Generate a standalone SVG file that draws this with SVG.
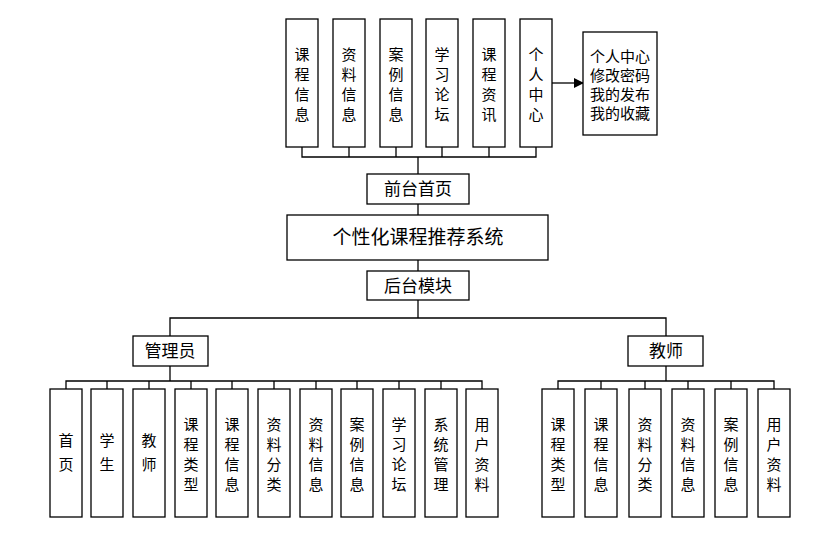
<svg xmlns="http://www.w3.org/2000/svg" width="833" height="541" viewBox="0 0 833 541">
<style>
rect{fill:#fff;stroke:#000;stroke-width:1.3}
text{font-family:"Noto Sans CJK SC",sans-serif;font-size:15px;fill:#000;text-anchor:middle}
.c line,.c polyline{stroke:#000;stroke-width:1.3;fill:none}
.t{font-size:17px}
</style>
<defs><marker id="a" markerWidth="10" markerHeight="10" refX="9" refY="5" orient="auto" markerUnits="userSpaceOnUse"><path d="M0,0L10,5L0,10z"/></marker></defs>
<g class="c">
<polyline points="302,147 302,157 536,157 536,147"/>
<line x1="349" y1="147" x2="349" y2="157"/><line x1="396" y1="147" x2="396" y2="157"/><line x1="442" y1="147" x2="442" y2="157"/><line x1="489" y1="147" x2="489" y2="157"/>
<line x1="418" y1="157" x2="418" y2="174" stroke-width="2"/>
<line x1="418" y1="204" x2="418" y2="215"/><line x1="418" y1="260" x2="418" y2="271"/><line x1="418" y1="300" x2="418" y2="318" stroke-width="2"/>
<polyline points="170,336 170,318 666,318 666,336"/>
<line x1="552" y1="83" x2="583" y2="83" stroke-width="2" marker-end="url(#a)"/>
<line x1="170" y1="366" x2="170" y2="381" stroke-width="2"/>
<polyline points="66,389 66,381 482,381 482,389"/>
<line x1="107" y1="381" x2="107" y2="389"/><line x1="149" y1="381" x2="149" y2="389"/><line x1="191" y1="381" x2="191" y2="389"/><line x1="232" y1="381" x2="232" y2="389"/><line x1="274" y1="381" x2="274" y2="389"/><line x1="316" y1="381" x2="316" y2="389"/><line x1="357" y1="381" x2="357" y2="389"/><line x1="399" y1="381" x2="399" y2="389"/><line x1="441" y1="381" x2="441" y2="389"/>
<line x1="666" y1="366" x2="666" y2="381" stroke-width="2"/>
<polyline points="558,389 558,381 774,381 774,389"/>
<line x1="601" y1="381" x2="601" y2="389"/><line x1="645" y1="381" x2="645" y2="389"/><line x1="688" y1="381" x2="688" y2="389"/><line x1="731" y1="381" x2="731" y2="389"/>
</g>
<g id="n1"><rect x="286" y="19" width="32" height="128"/><text x="302" y="60">课</text><text x="302" y="80">程</text><text x="302" y="100">信</text><text x="302" y="120">息</text></g>
<g id="n2"><rect x="333" y="19" width="32" height="128"/><text x="349" y="60">资</text><text x="349" y="80">料</text><text x="349" y="100">信</text><text x="349" y="120">息</text></g>
<g id="n3"><rect x="380" y="19" width="32" height="128"/><text x="396" y="60">案</text><text x="396" y="80">例</text><text x="396" y="100">信</text><text x="396" y="120">息</text></g>
<g id="n4"><rect x="426" y="19" width="32" height="128"/><text x="442" y="60">学</text><text x="442" y="80">习</text><text x="442" y="100">论</text><text x="442" y="120">坛</text></g>
<g id="n5"><rect x="473" y="19" width="32" height="128"/><text x="489" y="60">课</text><text x="489" y="80">程</text><text x="489" y="100">资</text><text x="489" y="120">讯</text></g>
<g id="n6"><rect x="520" y="19" width="32" height="128"/><text x="536" y="60">个</text><text x="536" y="80">人</text><text x="536" y="100">中</text><text x="536" y="120">心</text></g>
<g id="n7"><rect x="583" y="32" width="74" height="103"/><text x="620" y="62">个人中心</text><text x="620" y="81">修改密码</text><text x="620" y="100">我的发布</text><text x="620" y="119">我的收藏</text></g>
<g id="front"><rect x="367" y="174" width="102" height="30"/><text x="418" y="195" class="t">前台首页</text></g>
<g id="sys"><rect x="287" y="215" width="261" height="45"/><text x="418" y="244" style="font-size:19px">个性化课程推荐系统</text></g>
<g id="back"><rect x="367" y="271" width="102" height="29"/><text x="418" y="292" class="t">后台模块</text></g>
<g id="admin"><rect x="133" y="336" width="75" height="30"/><text x="170" y="357" class="t">管理员</text></g>
<g id="teacher"><rect x="628" y="336" width="75" height="30"/><text x="666" y="357" class="t">教师</text></g>
<g id="a1"><rect x="50" y="389" width="32" height="128"/><text x="66" y="446">首</text><text x="66" y="470">页</text></g>
<g id="a2"><rect x="91" y="389" width="32" height="128"/><text x="107" y="446">学</text><text x="107" y="470">生</text></g>
<g id="a3"><rect x="133" y="389" width="32" height="128"/><text x="149" y="446">教</text><text x="149" y="470">师</text></g>
<g id="a4"><rect x="175" y="389" width="32" height="128"/><text x="191" y="430">课</text><text x="191" y="450">程</text><text x="191" y="470">类</text><text x="191" y="490">型</text></g>
<g id="a5"><rect x="216" y="389" width="32" height="128"/><text x="232" y="430">课</text><text x="232" y="450">程</text><text x="232" y="470">信</text><text x="232" y="490">息</text></g>
<g id="a6"><rect x="258" y="389" width="32" height="128"/><text x="274" y="430">资</text><text x="274" y="450">料</text><text x="274" y="470">分</text><text x="274" y="490">类</text></g>
<g id="a7"><rect x="300" y="389" width="32" height="128"/><text x="316" y="430">资</text><text x="316" y="450">料</text><text x="316" y="470">信</text><text x="316" y="490">息</text></g>
<g id="a8"><rect x="341" y="389" width="32" height="128"/><text x="357" y="430">案</text><text x="357" y="450">例</text><text x="357" y="470">信</text><text x="357" y="490">息</text></g>
<g id="a9"><rect x="383" y="389" width="32" height="128"/><text x="399" y="430">学</text><text x="399" y="450">习</text><text x="399" y="470">论</text><text x="399" y="490">坛</text></g>
<g id="a10"><rect x="425" y="389" width="32" height="128"/><text x="441" y="430">系</text><text x="441" y="450">统</text><text x="441" y="470">管</text><text x="441" y="490">理</text></g>
<g id="a11"><rect x="466" y="389" width="32" height="128"/><text x="482" y="430">用</text><text x="482" y="450">户</text><text x="482" y="470">资</text><text x="482" y="490">料</text></g>
<g id="t1"><rect x="542" y="389" width="32" height="128"/><text x="558" y="430">课</text><text x="558" y="450">程</text><text x="558" y="470">类</text><text x="558" y="490">型</text></g>
<g id="t2"><rect x="585" y="389" width="32" height="128"/><text x="601" y="430">课</text><text x="601" y="450">程</text><text x="601" y="470">信</text><text x="601" y="490">息</text></g>
<g id="t3"><rect x="629" y="389" width="32" height="128"/><text x="645" y="430">资</text><text x="645" y="450">料</text><text x="645" y="470">分</text><text x="645" y="490">类</text></g>
<g id="t4"><rect x="672" y="389" width="32" height="128"/><text x="688" y="430">资</text><text x="688" y="450">料</text><text x="688" y="470">信</text><text x="688" y="490">息</text></g>
<g id="t5"><rect x="715" y="389" width="32" height="128"/><text x="731" y="430">案</text><text x="731" y="450">例</text><text x="731" y="470">信</text><text x="731" y="490">息</text></g>
<g id="t6"><rect x="758" y="389" width="32" height="128"/><text x="774" y="430">用</text><text x="774" y="450">户</text><text x="774" y="470">资</text><text x="774" y="490">料</text></g>
</svg>
